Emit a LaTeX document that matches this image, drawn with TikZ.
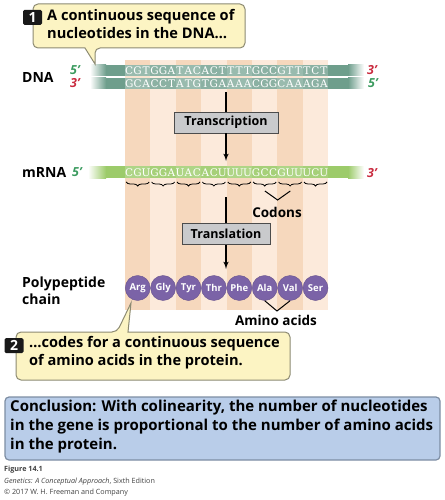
\documentclass[tikz,border=0pt]{standalone}
\usepackage{fontspec}
\setmainfont{Open Sans}
\newfontfamily\seqfont{DejaVu Serif}
\usetikzlibrary{shapes,arrows,decorations.pathreplacing}
\definecolor{stripeA}{HTML}{F6D8BD}
\definecolor{stripeB}{HTML}{FCEADB}
\definecolor{dnagreen}{HTML}{6E9E8C}
\definecolor{rnagreen}{HTML}{9CCB6A}
\definecolor{bubfill}{HTML}{FCF4C3}
\definecolor{bubdraw}{HTML}{8C8A72}
\definecolor{concfill}{HTML}{B9CDE9}
\definecolor{concdraw}{HTML}{7D8DA3}
\definecolor{boxfill}{HTML}{C9CACC}
\definecolor{aafill}{HTML}{7B63A7}
\definecolor{fivep}{HTML}{3A9A5E}
\definecolor{threep}{HTML}{C92A3E}
\tikzstyle{line} = [draw, line width=1.5pt]
\tikzstyle{line_arr} = [draw, line width=1.5pt, -latex']
\tikzstyle{proc_box} = [rectangle, draw=black!70, fill=boxfill, line width=0.8pt, minimum height=21pt, inner sep=0pt, font=\fontsize{12.5}{14}\selectfont\bfseries]
\tikzstyle{amino} = [circle, draw=aafill!85!black, fill=aafill, text=white, minimum size=25pt, inner sep=0pt, font=\fontsize{9.5}{10}\selectfont\bfseries, node distance=25.4pt]
\tikzstyle{label_l} = [anchor=west, align=left, inner sep=0pt, font=\fontsize{14}{17}\selectfont\bfseries]
\tikzstyle{end_lab} = [inner sep=0pt, font=\fontsize{12.5}{13}\selectfont\bfseries\itshape]
\tikzstyle{seq_let} = [inner sep=0pt, text=white, font=\seqfont\fontsize{10.5}{11}\selectfont]
\tikzstyle{bubble} = [draw=bubdraw, fill=bubfill, line width=1pt, rounded corners=5pt]
\tikzstyle{bub_text} = [anchor=north west, align=left, inner sep=0pt, font=\fontsize{14.6}{18}\selectfont\bfseries]
\tikzstyle{step_num} = [rectangle, fill=black!90, text=white, rounded corners=1.5pt, minimum width=19pt, minimum height=15pt, inner sep=0pt, font=\fontsize{14}{14}\selectfont\bfseries]
\tikzstyle{brace_c} = [draw, line width=0.8pt, decorate, decoration={brace, mirror, amplitude=4pt}]
\tikzstyle{big_lab} = [inner sep=0pt, font=\fontsize{13.5}{14}\selectfont\bfseries]
\tikzstyle{caption} = [anchor=west, inner sep=0pt, text=black!75, font=\fontsize{7.2}{8}\selectfont]

\begin{document}
\begin{tikzpicture}[x=1pt, y=-1pt]
		\useasboundingbox (0,0) rectangle (444,500);
		
		% codon stripes
		\foreach \i in {0,2,4,6}
			\fill [stripeA] ({125+25.4*\i},60) rectangle ++(25.4,250);
		\foreach \i in {1,3,5,7}
			\fill [stripeB] ({125+25.4*\i},60) rectangle ++(25.4,250);
		
		% DNA strands
		\fill [dnagreen] (106,65) rectangle (348,76);
		\fill [dnagreen] (106,78) rectangle (348,89);
		\shade [left color=white, right color=dnagreen] (90,65) rectangle (106,76);
		\shade [left color=white, right color=dnagreen] (90,78) rectangle (106,89);
		\shade [left color=dnagreen, right color=white] (348,65) rectangle (364,76);
		\shade [left color=dnagreen, right color=white] (348,78) rectangle (364,89);
		
		% mRNA strand
		\fill [rnagreen] (106,166) rectangle (348,178);
		\shade [left color=white, right color=rnagreen] (88,166) rectangle (106,178);
		\shade [left color=rnagreen, right color=white] (348,166) rectangle (364,178);
		
		% stripes show through the strands
		\foreach \i in {0,2,4,6} {
			\fill [white, opacity=0.3] ({125+25.4*\i},65) rectangle ++(25.4,24);
			\fill [white, opacity=0.2] ({125+25.4*\i},166) rectangle ++(25.4,12);
		}
		\foreach \i in {1,3,5,7} {
			\fill [white, opacity=0.2] ({125+25.4*\i},65) rectangle ++(25.4,24);
			\fill [white, opacity=0.1] ({125+25.4*\i},166) rectangle ++(25.4,12);
		}
		
		% sequences
		\foreach \c [count=\i] in {C,G,T,G,G,A,T,A,C,A,C,T,T,T,T,G,C,C,G,T,T,T,C,T}
			\node [seq_let] (top\i) at ({125+8.46*(\i-0.5)},71) {\c};
		\foreach \c [count=\i] in {G,C,A,C,C,T,A,T,G,T,G,A,A,A,A,C,G,G,C,A,A,A,G,A}
			\node [seq_let] (bot\i) at ({125+8.46*(\i-0.5)},84) {\c};
		\foreach \c [count=\i] in {C,G,U,G,G,A,U,A,C,A,C,U,U,U,U,G,C,C,G,U,U,U,C,U}
			\node [seq_let] (rna\i) at ({125+8.46*(\i-0.5)},172.5) {\c};
		
		% labels at the left
		\node [label_l] (dna) at (22,77) {DNA};
		\node [label_l] (mrna) at (22,172) {mRNA};
		\node [label_l] (poly) at (22,291) {Polypeptide\\chain};
		
		\node [end_lab, text=fivep] (dna5a) at (75,70) {5’};
		\node [end_lab, text=threep] (dna3a) at (75,83) {3’};
		\node [end_lab, text=threep] (dna3b) at (372,70) {3’};
		\node [end_lab, text=fivep] (dna5b) at (373,83) {5’};
		\node [end_lab, text=fivep] (rna5) at (77,172) {5’};
		\node [end_lab, text=threep] (rna3) at (372,173) {3’};
		
		% transcription
		\coordinate (dna_out) at (226,92);
		\node [proc_box, minimum width=104pt] (transc) at (226,122.5) {Transcription};
		\coordinate (rna_in) at (226,161);
		\path [line] (dna_out) to (transc.north);
		\path [line_arr] (transc.south) to (rna_in);
		
		% codon braces
		\foreach \i in {0,...,7}
			\path [brace_c] ({125+25.4*\i+1.2},182) -- ({125+25.4*(\i+1)-1.2},182);
		\coordinate (cod6) at (264.9,191);
		\coordinate (cod7) at (290.3,191);
		\coordinate (cod_v) at (277.6,200);
		\draw [line width=1pt] (cod6) -- (cod_v) -- (cod7);
		\node [big_lab] (codons) at (277,212) {Codons};
		
		% translation
		\coordinate (rna_out) at (226,197);
		\node [proc_box, minimum width=88pt] (transl) at (226,234) {Translation};
		\coordinate (aa_in) at (226,269);
		\path [line] (rna_out) to (transl.north);
		\path [line_arr] (transl.south) to (aa_in);
		
		% amino acids
		\node [amino] (arg) at (137.7,288) {Arg};
		\node [amino, right of=arg] (gly) {Gly};
		\node [amino, right of=gly] (tyr) {Tyr};
		\node [amino, right of=tyr] (thr) {Thr};
		\node [amino, right of=thr] (phe) {Phe};
		\node [amino, right of=phe] (ala) {Ala};
		\node [amino, right of=ala] (val) {Val};
		\node [amino, right of=val] (ser) {Ser};
		\coordinate (aa_v) at (277,311);
		\draw [line width=1pt] (ala.south) -- (aa_v) -- (val.south);
		\node [big_lab] (amino_lab) at (276,320) {Amino acids};
		
		% callout 1
		\path [bubble] (33,4) -- (245,4) -- (245,48) -- (95,48) [sharp corners] -- (95,64) -- (85,48) [rounded corners=5pt] -- (33,48) -- cycle;
		\node [step_num] (num1) at (32.5,17.5) {1};
		\node [bub_text] (bub1) at (47,9) {A continuous sequence of\\nucleotides in the DNA…};
		
		% callout 2
		\path [bubble] (16,332) -- (117,332) [sharp corners] -- (131,303) -- (128,332) [rounded corners=5pt] -- (290,332) -- (290,380) -- (16,380) -- cycle;
		\node [step_num] (num2) at (14,345.5) {2};
		\node [bub_text] (bub2) at (29,336) {…codes for a continuous sequence\\of amino acids in the protein.};
		
		% conclusion
		\node [draw=concdraw, fill=concfill, line width=1.2pt, rounded corners=4pt, minimum width=435pt, minimum height=63pt, inner sep=0pt] (concl) at (222.5,428.5) {};
		\node [anchor=north west, align=left, inner sep=0pt, font=\fontsize{15}{19}\selectfont\bfseries] (concl_txt) at (10,400) {Conclusion: With colinearity, the number of nucleotides\\in the gene is proportional to the number of amino acids\\in the protein.};
		
		% caption
		\node [caption, font=\fontsize{7.2}{8}\selectfont\bfseries] (fig) at (4,470) {Figure 14.1};
		\node [caption] (book) at (4,482) {\textit{Genetics: A Conceptual Approach}, Sixth Edition};
		\node [caption] (copy) at (4,493) {© 2017 W. H. Freeman and Company};
\end{tikzpicture}
\end{document}
